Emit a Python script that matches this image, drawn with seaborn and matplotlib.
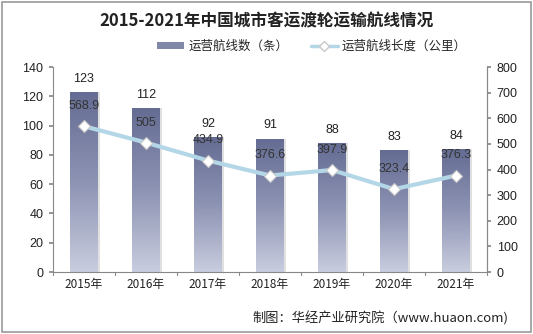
import numpy as np
import pandas as pd
import matplotlib
matplotlib.use("Agg")
import matplotlib.pyplot as plt
from matplotlib.colors import LinearSegmentedColormap
from matplotlib.lines import Line2D
from matplotlib.patches import Patch
import seaborn as sns

years = ["2015年", "2016年", "2017年", "2018年", "2019年", "2020年", "2021年"]
routes = [123, 112, 92, 91, 88, 83, 84]
length_km = [568.9, 505, 434.9, 376.6, 397.9, 323.4, 376.3]
length_labels = ["568.9", "505", "434.9", "376.6", "397.9", "323.4", "376.3"]

sns.set_theme(style="white")
plt.rcParams['font.family'] = ['Noto Sans CJK SC', 'DejaVu Sans']

fig = plt.figure(figsize=(5.33, 3.34), dpi=100)
fig.patch.set_facecolor("white")
ax = fig.add_axes([0.0994, 0.1856, 0.8143, 0.6138])

df = pd.DataFrame({"year": years, "routes": routes})
sns.barplot(data=df, x="year", y="routes", ax=ax, color="#6f7799", width=0.45,
            saturation=1, edgecolor="none")
ax.set_ylim(0, 140)
ax.set_xlim(-0.5, 6.5)

cmap = LinearSegmentedColormap.from_list("g", ["#c9cddf", "#8d93b3", "#646c93"])
grad = np.linspace(0, 1, 256).reshape(-1, 1)
for p in list(ax.patches):
    x0, w, h = p.get_x(), p.get_width(), p.get_height()
    ax.add_patch(plt.Rectangle((x0 + w, 0), 0.04, h, color="#e0e0e0", zorder=1.5, lw=0))
    im = ax.imshow(grad, extent=[x0, x0 + w, 0, h], origin="lower", cmap=cmap,
                   aspect="auto", zorder=2)
    im.set_clip_path(p)
    p.set_zorder(2)
ax.set_xlim(-0.5, 6.5)
ax.set_ylim(0, 140)

for i, v in enumerate(routes):
    ax.text(i, v + 5, str(v), ha="center", va="bottom", fontsize=9, color="#222222",
            family=['Liberation Sans', 'DejaVu Sans'])

ax.set_xlabel("")
ax.set_ylabel("")
ax.set_yticks(range(0, 141, 20))
ax.set_yticklabels([str(t) for t in range(0, 141, 20)], fontsize=9, color="#222222",
                   family=['Liberation Sans', 'DejaVu Sans'])
ax.set_xticks(range(7))
ax.set_xticklabels(years, fontsize=8.5, color="#222222")
ax.tick_params(axis="x", length=0, pad=4)
ax.tick_params(axis="y", length=3, color="#888888", direction="out", left=True, pad=4)
for b in np.arange(-0.5, 7, 1):
    ax.plot([b, b], [0, -1.8], color="#888888", lw=0.8, clip_on=False)
ax.spines["top"].set_visible(False)
for s in ["left", "bottom", "right"]:
    ax.spines[s].set_color("#888888")
    ax.spines[s].set_linewidth(0.8)

ax2 = ax.twinx()
ldf = pd.DataFrame({"x": range(7), "len": length_km})
sns.lineplot(data=ldf, x="x", y="len", ax=ax2, color="#b4d7e7", lw=3, zorder=3)
ax2.plot(range(7), length_km, ls="none", marker="D", ms=6, mfc="white",
         mec="#c8c8c8", mew=0.8, zorder=4)
ax2.set_ylim(0, 800)
ax2.set_xlim(-0.5, 6.5)
ax2.set_ylabel("")
ax2.set_xlabel("")
ax2.set_yticks(range(0, 801, 100))
ax2.set_yticklabels([str(t) for t in range(0, 801, 100)], fontsize=9, color="#222222",
                    family=['Liberation Sans', 'DejaVu Sans'])
ax2.tick_params(axis="y", length=3, color="#888888", direction="out", right=True, pad=4)
for s in ["top", "left", "bottom"]:
    ax2.spines[s].set_visible(False)
ax2.spines["right"].set_color("#888888")
ax2.spines["right"].set_linewidth(0.8)
for i, v in enumerate(length_km):
    ax2.text(i, v + 55, length_labels[i], ha="center", va="bottom", fontsize=9,
             color="#333333", family=['Liberation Sans', 'DejaVu Sans'], zorder=5)

fig.text(0.5, 0.935, "2015-2021年中国城市客运渡轮运输航线情况", ha="center", va="center",
         fontsize=12, fontweight="bold", color="#222222")

handles = [Patch(facecolor="#8088a8", edgecolor="none"),
           Line2D([0], [0], color="#b4d7e7", lw=2.5, marker="D", ms=5, mfc="white", mec="#c8c8c8")]
fig.legend(handles, ["运营航线数（条）", "运营航线长度（公里）"], loc="center",
           bbox_to_anchor=(0.585, 0.862), ncol=2, frameon=False, fontsize=9,
           handlelength=2.2, handleheight=0.5, columnspacing=1.8, handletextpad=0.3)

fig.text(0.953, 0.048, "制图：华经产业研究院（www.huaon.com)", ha="right", va="center",
         fontsize=9.5, color="#222222")

border = plt.Rectangle((0.003, 0.005), 0.994, 0.99, transform=fig.transFigure,
                       fill=False, edgecolor="#9a9a9a", lw=1.2)
fig.patches.append(border)

fig.savefig("out.png", dpi=100)
